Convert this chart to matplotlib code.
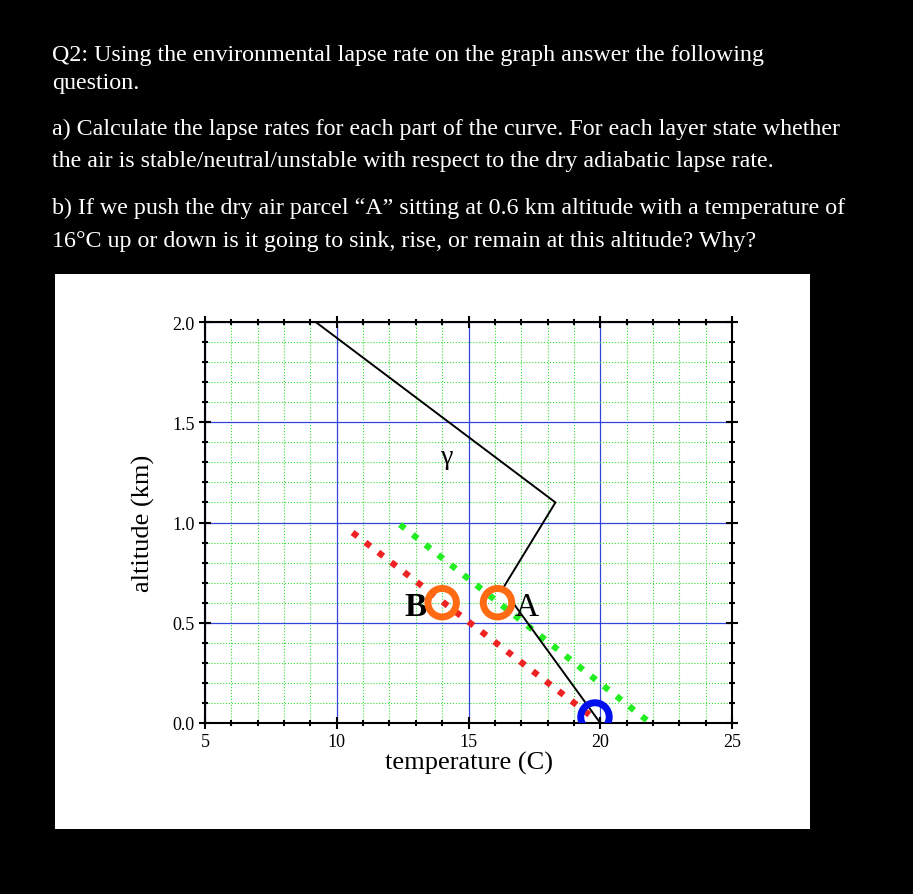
import matplotlib.pyplot as plt
from matplotlib.patches import Rectangle

# environmental profile
env_temp = [9.2, 18.3, 16.3, 20.0]
env_alt = [2.0, 1.1, 0.67, 0.0]
# dry adiabats through A and B
dry_a_temp = [12.4, 21.9]
dry_a_alt = [0.99, 0.0]
dry_b_temp = [10.6, 19.8]
dry_b_alt = [0.95, 0.02]
# parcels
parcel_temp = [14.0, 16.1]
parcel_alt = [0.6, 0.6]
surface = (19.8, 0.03)

question = [
    ("Q2: Using the environmental lapse rate on the graph answer the following", 55),
    ("question.", 84),
    ("a) Calculate the lapse rates for each part of the curve. For each layer state whether", 129),
    ("the air is stable/neutral/unstable with respect to the dry adiabatic lapse rate.", 161),
    ("b) If we push the dry air parcel \u201cA\u201d sitting at 0.6 km altitude with a temperature of", 208),
    ("16\u00b0C up or down is it going to sink, rise, or remain at this altitude? Why?", 241),
]

plt.rcParams['font.family'] = ['Liberation Serif', 'DejaVu Serif']
W, H = 913, 895
fig = plt.figure(figsize=(W / 100, H / 100), dpi=100, facecolor='black')
for txt, y in question:
    fig.text(52 / W, 1 - y / H, txt, color='white', fontsize=17.3, va='center')

fig.patches.append(Rectangle((55 / W, 1 - 830 / H), 755 / W, 555 / H,
                             transform=fig.transFigure, facecolor='white', zorder=-5))

ax = fig.add_axes([205 / W, 1 - 724 / H, 527 / W, 401 / H])
ax.set_xlim(5, 25)
ax.set_ylim(0, 2)
ax.set_xticks(range(5, 26, 5))
ax.set_xticks(range(5, 26), minor=True)
ax.set_yticks([0, 0.5, 1.0, 1.5, 2.0])
ax.set_yticks([i / 10 for i in range(21)], minor=True)
ax.set_yticklabels(['0.0', '0.5', '1.0', '1.5', '2.0'])
ax.grid(which='minor', color='#33dd33', linestyle=':', linewidth=0.8)
ax.grid(which='major', color='#3344dd', linestyle='-', linewidth=0.9)
ax.tick_params(which='both', direction='inout', top=True, right=True, labelsize=13, width=1.5)
ax.tick_params(which='major', length=8)
ax.tick_params(which='minor', length=5)
for s in ax.spines.values():
    s.set_linewidth(1.5)

ax.plot(dry_a_temp, dry_a_alt, color='#22ee22', linestyle=(0, (1, 1.6)), linewidth=4.5)
ax.plot(dry_b_temp, dry_b_alt, color='#ee2222', linestyle=(0, (1, 1.6)), linewidth=4.5)
ax.plot(env_temp, env_alt, color='black', linewidth=1.4)
ax.scatter(parcel_temp, parcel_alt, s=420, facecolors='none', edgecolors='#ff6a13', linewidths=5, zorder=5)
ax.scatter([surface[0]], [surface[1]], s=420, facecolors='none', edgecolors='#0011ee', linewidths=5, zorder=5)

ax.text(13.0, 0.58, 'B', fontsize=24, fontweight='bold', ha='center', va='center')
ax.text(17.2, 0.58, 'A', fontsize=24, ha='center', va='center')
ax.text(14.2, 1.33, '\u03b3', fontsize=20, ha='center', va='center')

ax.set_xlabel('temperature (C)', fontsize=19, labelpad=0)
ax.set_ylabel('altitude (km)', fontsize=19, labelpad=12)

fig.savefig('out.png', dpi=100, facecolor='black')
